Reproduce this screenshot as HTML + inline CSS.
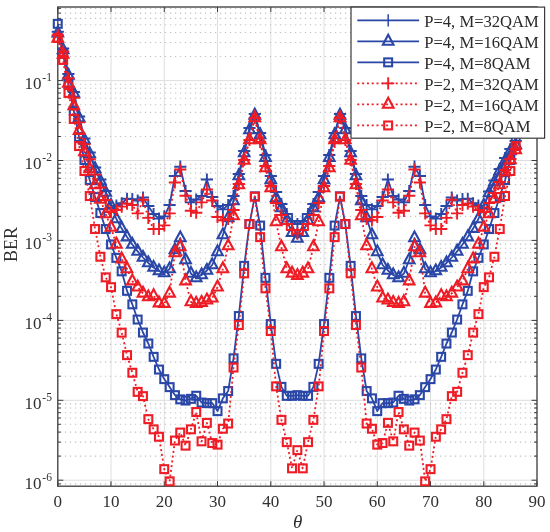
<!DOCTYPE html>
<html><head><meta charset="utf-8"><title>BER vs theta</title>
<style>html,body{margin:0;padding:0;background:#fff}body{width:550px;height:532px;overflow:hidden}</style></head>
<body>
<svg width="550" height="532" viewBox="0 0 550 532" style="display:block">
<rect width="550" height="532" fill="#fff"/>
<path d="M111.0 7.0V486.2 M164.3 7.0V486.2 M217.5 7.0V486.2 M270.8 7.0V486.2 M324.0 7.0V486.2 M377.3 7.0V486.2 M430.5 7.0V486.2 M483.8 7.0V486.2 M57.8 480.2H537.0 M57.8 400.3H537.0 M57.8 320.4H537.0 M57.8 240.4H537.0 M57.8 160.5H537.0 M57.8 80.6H537.0" stroke="#dedede" stroke-width="1" fill="none"/>
<path d="M59.9 483.9H537.0 M59.9 456.1H537.0 M59.9 442.1H537.0 M59.9 432.1H537.0 M59.9 424.3H537.0 M59.9 418.0H537.0 M59.9 412.7H537.0 M59.9 408.0H537.0 M59.9 403.9H537.0 M59.9 376.2H537.0 M59.9 362.1H537.0 M59.9 352.2H537.0 M59.9 344.4H537.0 M59.9 338.1H537.0 M59.9 332.7H537.0 M59.9 328.1H537.0 M59.9 324.0H537.0 M59.9 296.3H537.0 M59.9 282.2H537.0 M59.9 272.2H537.0 M59.9 264.5H537.0 M59.9 258.2H537.0 M59.9 252.8H537.0 M59.9 248.2H537.0 M59.9 244.1H537.0 M59.9 216.4H537.0 M59.9 202.3H537.0 M59.9 192.3H537.0 M59.9 184.6H537.0 M59.9 178.3H537.0 M59.9 172.9H537.0 M59.9 168.3H537.0 M59.9 164.2H537.0 M59.9 136.5H537.0 M59.9 122.4H537.0 M59.9 112.4H537.0 M59.9 104.7H537.0 M59.9 98.3H537.0 M59.9 93.0H537.0 M59.9 88.3H537.0 M59.9 84.3H537.0 M59.9 56.5H537.0 M59.9 42.5H537.0 M59.9 32.5H537.0 M59.9 24.7H537.0 M59.9 18.4H537.0 M59.9 13.1H537.0 M59.9 8.4H537.0" stroke="#c2c2c2" stroke-width="1.1" stroke-dasharray="1.3 3.7" fill="none"/>
<path d="M57.8 486.2v-5 M57.8 7.0v5 M111.0 486.2v-5 M111.0 7.0v5 M164.3 486.2v-5 M164.3 7.0v5 M217.5 486.2v-5 M217.5 7.0v5 M270.8 486.2v-5 M270.8 7.0v5 M324.0 486.2v-5 M324.0 7.0v5 M377.3 486.2v-5 M377.3 7.0v5 M430.5 486.2v-5 M430.5 7.0v5 M483.8 486.2v-5 M483.8 7.0v5 M537.0 486.2v-5 M537.0 7.0v5 M57.8 480.2h5.5M537.0 480.2h-5.5 M57.8 400.3h5.5M537.0 400.3h-5.5 M57.8 320.4h5.5M537.0 320.4h-5.5 M57.8 240.4h5.5M537.0 240.4h-5.5 M57.8 160.5h5.5M537.0 160.5h-5.5 M57.8 80.6h5.5M537.0 80.6h-5.5 M57.8 483.9h3M537.0 483.9h-3 M57.8 456.1h3M537.0 456.1h-3 M57.8 442.1h3M537.0 442.1h-3 M57.8 432.1h3M537.0 432.1h-3 M57.8 424.3h3M537.0 424.3h-3 M57.8 418.0h3M537.0 418.0h-3 M57.8 412.7h3M537.0 412.7h-3 M57.8 408.0h3M537.0 408.0h-3 M57.8 403.9h3M537.0 403.9h-3 M57.8 376.2h3M537.0 376.2h-3 M57.8 362.1h3M537.0 362.1h-3 M57.8 352.2h3M537.0 352.2h-3 M57.8 344.4h3M537.0 344.4h-3 M57.8 338.1h3M537.0 338.1h-3 M57.8 332.7h3M537.0 332.7h-3 M57.8 328.1h3M537.0 328.1h-3 M57.8 324.0h3M537.0 324.0h-3 M57.8 296.3h3M537.0 296.3h-3 M57.8 282.2h3M537.0 282.2h-3 M57.8 272.2h3M537.0 272.2h-3 M57.8 264.5h3M537.0 264.5h-3 M57.8 258.2h3M537.0 258.2h-3 M57.8 252.8h3M537.0 252.8h-3 M57.8 248.2h3M537.0 248.2h-3 M57.8 244.1h3M537.0 244.1h-3 M57.8 216.4h3M537.0 216.4h-3 M57.8 202.3h3M537.0 202.3h-3 M57.8 192.3h3M537.0 192.3h-3 M57.8 184.6h3M537.0 184.6h-3 M57.8 178.3h3M537.0 178.3h-3 M57.8 172.9h3M537.0 172.9h-3 M57.8 168.3h3M537.0 168.3h-3 M57.8 164.2h3M537.0 164.2h-3 M57.8 136.5h3M537.0 136.5h-3 M57.8 122.4h3M537.0 122.4h-3 M57.8 112.4h3M537.0 112.4h-3 M57.8 104.7h3M537.0 104.7h-3 M57.8 98.3h3M537.0 98.3h-3 M57.8 93.0h3M537.0 93.0h-3 M57.8 88.3h3M537.0 88.3h-3 M57.8 84.3h3M537.0 84.3h-3 M57.8 56.5h3M537.0 56.5h-3 M57.8 42.5h3M537.0 42.5h-3 M57.8 32.5h3M537.0 32.5h-3 M57.8 24.7h3M537.0 24.7h-3 M57.8 18.4h3M537.0 18.4h-3 M57.8 13.1h3M537.0 13.1h-3 M57.8 8.4h3M537.0 8.4h-3" stroke="#3a3a3a" stroke-width="1" fill="none"/>
<rect x="57.8" y="7.0" width="479.2" height="479.2" fill="none" stroke="#3a3a3a" stroke-width="1.3"/>
<clipPath id="c"><rect x="49.8" y="-1.0" width="495.2" height="487.8"/></clipPath>
<g clip-path="url(#c)">
<path d="M57.8 31.7L63.1 48.5L68.4 74.0L73.8 92.0L79.1 116.5L84.4 138.5L89.7 152.5L95.1 167.5L100.4 179.5L105.7 191.0L111.0 207.8L116.4 205.6L121.7 203.3L127.0 198.8L132.3 199.1L137.7 200.6L143.0 197.5L148.3 206.0L153.6 214.0L159.0 218.6L164.3 216.4L169.6 205.0L174.9 176.0L180.3 166.7L185.6 191.0L190.9 202.4L196.2 199.5L201.6 196.0L206.9 179.5L212.2 197.0L217.5 206.0L222.9 209.4L228.2 205.0L233.5 196.0L238.8 174.0L244.2 151.0L249.5 128.0L254.8 114.0L260.1 133.0L265.5 155.0L270.8 176.0L276.1 192.0L281.4 204.0L286.8 214.0L292.1 221.0L297.4 224.0L302.7 221.0L308.0 214.0L313.4 204.0L318.7 192.0L324.0 176.0L329.3 155.0L334.7 133.0L340.0 114.0L345.3 128.0L350.6 151.0L356.0 174.0L361.3 196.0L366.6 205.0L371.9 209.4L377.3 206.0L382.6 197.0L387.9 179.5L393.2 196.0L398.6 199.5L403.9 202.4L409.2 191.0L414.5 166.7L419.9 176.0L425.2 205.0L430.5 216.4L435.8 218.6L441.2 214.0L446.5 206.0L451.8 197.5L457.1 200.6L462.5 199.1L467.8 198.8L473.1 203.3L478.4 205.6L483.8 207.8L489.1 191.5L494.4 180.5L499.7 169.0L505.1 158.0L510.4 149.0L515.7 141.0" stroke="#2a47a8" stroke-width="1.8" fill="none" stroke-linejoin="round"/>
<g><path d="M51.7 31.7H63.9M57.8 25.6V37.8" stroke="#2a47a8" stroke-width="1.9" fill="none"/><path d="M57.0 48.5H69.2M63.1 42.4V54.6" stroke="#2a47a8" stroke-width="1.9" fill="none"/><path d="M62.3 74.0H74.5M68.4 67.9V80.1" stroke="#2a47a8" stroke-width="1.9" fill="none"/><path d="M67.7 92.0H79.9M73.8 85.9V98.1" stroke="#2a47a8" stroke-width="1.9" fill="none"/><path d="M73.0 116.5H85.2M79.1 110.4V122.6" stroke="#2a47a8" stroke-width="1.9" fill="none"/><path d="M78.3 138.5H90.5M84.4 132.4V144.6" stroke="#2a47a8" stroke-width="1.9" fill="none"/><path d="M83.6 152.5H95.8M89.7 146.4V158.6" stroke="#2a47a8" stroke-width="1.9" fill="none"/><path d="M89.0 167.5H101.2M95.1 161.4V173.6" stroke="#2a47a8" stroke-width="1.9" fill="none"/><path d="M94.3 179.5H106.5M100.4 173.4V185.6" stroke="#2a47a8" stroke-width="1.9" fill="none"/><path d="M99.6 191.0H111.8M105.7 184.9V197.1" stroke="#2a47a8" stroke-width="1.9" fill="none"/><path d="M104.9 207.8H117.1M111.0 201.7V213.9" stroke="#2a47a8" stroke-width="1.9" fill="none"/><path d="M110.3 205.6H122.5M116.4 199.5V211.7" stroke="#2a47a8" stroke-width="1.9" fill="none"/><path d="M115.6 203.3H127.8M121.7 197.2V209.4" stroke="#2a47a8" stroke-width="1.9" fill="none"/><path d="M120.9 198.8H133.1M127.0 192.7V204.9" stroke="#2a47a8" stroke-width="1.9" fill="none"/><path d="M126.2 199.1H138.4M132.3 193.0V205.2" stroke="#2a47a8" stroke-width="1.9" fill="none"/><path d="M131.6 200.6H143.8M137.7 194.5V206.7" stroke="#2a47a8" stroke-width="1.9" fill="none"/><path d="M136.9 197.5H149.1M143.0 191.4V203.6" stroke="#2a47a8" stroke-width="1.9" fill="none"/><path d="M142.2 206.0H154.4M148.3 199.9V212.1" stroke="#2a47a8" stroke-width="1.9" fill="none"/><path d="M147.5 214.0H159.7M153.6 207.9V220.1" stroke="#2a47a8" stroke-width="1.9" fill="none"/><path d="M152.9 218.6H165.1M159.0 212.5V224.7" stroke="#2a47a8" stroke-width="1.9" fill="none"/><path d="M158.2 216.4H170.4M164.3 210.3V222.5" stroke="#2a47a8" stroke-width="1.9" fill="none"/><path d="M163.5 205.0H175.7M169.6 198.9V211.1" stroke="#2a47a8" stroke-width="1.9" fill="none"/><path d="M168.8 176.0H181.0M174.9 169.9V182.1" stroke="#2a47a8" stroke-width="1.9" fill="none"/><path d="M174.2 166.7H186.4M180.3 160.6V172.8" stroke="#2a47a8" stroke-width="1.9" fill="none"/><path d="M179.5 191.0H191.7M185.6 184.9V197.1" stroke="#2a47a8" stroke-width="1.9" fill="none"/><path d="M184.8 202.4H197.0M190.9 196.3V208.5" stroke="#2a47a8" stroke-width="1.9" fill="none"/><path d="M190.1 199.5H202.3M196.2 193.4V205.6" stroke="#2a47a8" stroke-width="1.9" fill="none"/><path d="M195.5 196.0H207.7M201.6 189.9V202.1" stroke="#2a47a8" stroke-width="1.9" fill="none"/><path d="M200.8 179.5H213.0M206.9 173.4V185.6" stroke="#2a47a8" stroke-width="1.9" fill="none"/><path d="M206.1 197.0H218.3M212.2 190.9V203.1" stroke="#2a47a8" stroke-width="1.9" fill="none"/><path d="M211.4 206.0H223.6M217.5 199.9V212.1" stroke="#2a47a8" stroke-width="1.9" fill="none"/><path d="M216.8 209.4H229.0M222.9 203.3V215.5" stroke="#2a47a8" stroke-width="1.9" fill="none"/><path d="M222.1 205.0H234.3M228.2 198.9V211.1" stroke="#2a47a8" stroke-width="1.9" fill="none"/><path d="M227.4 196.0H239.6M233.5 189.9V202.1" stroke="#2a47a8" stroke-width="1.9" fill="none"/><path d="M232.7 174.0H244.9M238.8 167.9V180.1" stroke="#2a47a8" stroke-width="1.9" fill="none"/><path d="M238.1 151.0H250.3M244.2 144.9V157.1" stroke="#2a47a8" stroke-width="1.9" fill="none"/><path d="M243.4 128.0H255.6M249.5 121.9V134.1" stroke="#2a47a8" stroke-width="1.9" fill="none"/><path d="M248.7 114.0H260.9M254.8 107.9V120.1" stroke="#2a47a8" stroke-width="1.9" fill="none"/><path d="M254.0 133.0H266.2M260.1 126.9V139.1" stroke="#2a47a8" stroke-width="1.9" fill="none"/><path d="M259.4 155.0H271.6M265.5 148.9V161.1" stroke="#2a47a8" stroke-width="1.9" fill="none"/><path d="M264.7 176.0H276.9M270.8 169.9V182.1" stroke="#2a47a8" stroke-width="1.9" fill="none"/><path d="M270.0 192.0H282.2M276.1 185.9V198.1" stroke="#2a47a8" stroke-width="1.9" fill="none"/><path d="M275.3 204.0H287.5M281.4 197.9V210.1" stroke="#2a47a8" stroke-width="1.9" fill="none"/><path d="M280.7 214.0H292.9M286.8 207.9V220.1" stroke="#2a47a8" stroke-width="1.9" fill="none"/><path d="M286.0 221.0H298.2M292.1 214.9V227.1" stroke="#2a47a8" stroke-width="1.9" fill="none"/><path d="M291.3 224.0H303.5M297.4 217.9V230.1" stroke="#2a47a8" stroke-width="1.9" fill="none"/><path d="M296.6 221.0H308.8M302.7 214.9V227.1" stroke="#2a47a8" stroke-width="1.9" fill="none"/><path d="M301.9 214.0H314.1M308.0 207.9V220.1" stroke="#2a47a8" stroke-width="1.9" fill="none"/><path d="M307.3 204.0H319.5M313.4 197.9V210.1" stroke="#2a47a8" stroke-width="1.9" fill="none"/><path d="M312.6 192.0H324.8M318.7 185.9V198.1" stroke="#2a47a8" stroke-width="1.9" fill="none"/><path d="M317.9 176.0H330.1M324.0 169.9V182.1" stroke="#2a47a8" stroke-width="1.9" fill="none"/><path d="M323.2 155.0H335.4M329.3 148.9V161.1" stroke="#2a47a8" stroke-width="1.9" fill="none"/><path d="M328.6 133.0H340.8M334.7 126.9V139.1" stroke="#2a47a8" stroke-width="1.9" fill="none"/><path d="M333.9 114.0H346.1M340.0 107.9V120.1" stroke="#2a47a8" stroke-width="1.9" fill="none"/><path d="M339.2 128.0H351.4M345.3 121.9V134.1" stroke="#2a47a8" stroke-width="1.9" fill="none"/><path d="M344.5 151.0H356.7M350.6 144.9V157.1" stroke="#2a47a8" stroke-width="1.9" fill="none"/><path d="M349.9 174.0H362.1M356.0 167.9V180.1" stroke="#2a47a8" stroke-width="1.9" fill="none"/><path d="M355.2 196.0H367.4M361.3 189.9V202.1" stroke="#2a47a8" stroke-width="1.9" fill="none"/><path d="M360.5 205.0H372.7M366.6 198.9V211.1" stroke="#2a47a8" stroke-width="1.9" fill="none"/><path d="M365.8 209.4H378.0M371.9 203.3V215.5" stroke="#2a47a8" stroke-width="1.9" fill="none"/><path d="M371.2 206.0H383.4M377.3 199.9V212.1" stroke="#2a47a8" stroke-width="1.9" fill="none"/><path d="M376.5 197.0H388.7M382.6 190.9V203.1" stroke="#2a47a8" stroke-width="1.9" fill="none"/><path d="M381.8 179.5H394.0M387.9 173.4V185.6" stroke="#2a47a8" stroke-width="1.9" fill="none"/><path d="M387.1 196.0H399.3M393.2 189.9V202.1" stroke="#2a47a8" stroke-width="1.9" fill="none"/><path d="M392.5 199.5H404.7M398.6 193.4V205.6" stroke="#2a47a8" stroke-width="1.9" fill="none"/><path d="M397.8 202.4H410.0M403.9 196.3V208.5" stroke="#2a47a8" stroke-width="1.9" fill="none"/><path d="M403.1 191.0H415.3M409.2 184.9V197.1" stroke="#2a47a8" stroke-width="1.9" fill="none"/><path d="M408.4 166.7H420.6M414.5 160.6V172.8" stroke="#2a47a8" stroke-width="1.9" fill="none"/><path d="M413.8 176.0H426.0M419.9 169.9V182.1" stroke="#2a47a8" stroke-width="1.9" fill="none"/><path d="M419.1 205.0H431.3M425.2 198.9V211.1" stroke="#2a47a8" stroke-width="1.9" fill="none"/><path d="M424.4 216.4H436.6M430.5 210.3V222.5" stroke="#2a47a8" stroke-width="1.9" fill="none"/><path d="M429.7 218.6H441.9M435.8 212.5V224.7" stroke="#2a47a8" stroke-width="1.9" fill="none"/><path d="M435.1 214.0H447.3M441.2 207.9V220.1" stroke="#2a47a8" stroke-width="1.9" fill="none"/><path d="M440.4 206.0H452.6M446.5 199.9V212.1" stroke="#2a47a8" stroke-width="1.9" fill="none"/><path d="M445.7 197.5H457.9M451.8 191.4V203.6" stroke="#2a47a8" stroke-width="1.9" fill="none"/><path d="M451.0 200.6H463.2M457.1 194.5V206.7" stroke="#2a47a8" stroke-width="1.9" fill="none"/><path d="M456.4 199.1H468.6M462.5 193.0V205.2" stroke="#2a47a8" stroke-width="1.9" fill="none"/><path d="M461.7 198.8H473.9M467.8 192.7V204.9" stroke="#2a47a8" stroke-width="1.9" fill="none"/><path d="M467.0 203.3H479.2M473.1 197.2V209.4" stroke="#2a47a8" stroke-width="1.9" fill="none"/><path d="M472.3 205.6H484.5M478.4 199.5V211.7" stroke="#2a47a8" stroke-width="1.9" fill="none"/><path d="M477.7 207.8H489.9M483.8 201.7V213.9" stroke="#2a47a8" stroke-width="1.9" fill="none"/><path d="M483.0 191.5H495.2M489.1 185.4V197.6" stroke="#2a47a8" stroke-width="1.9" fill="none"/><path d="M488.3 180.5H500.5M494.4 174.4V186.6" stroke="#2a47a8" stroke-width="1.9" fill="none"/><path d="M493.6 169.0H505.8M499.7 162.9V175.1" stroke="#2a47a8" stroke-width="1.9" fill="none"/><path d="M499.0 158.0H511.2M505.1 151.9V164.1" stroke="#2a47a8" stroke-width="1.9" fill="none"/><path d="M504.3 149.0H516.5M510.4 142.9V155.1" stroke="#2a47a8" stroke-width="1.9" fill="none"/><path d="M509.6 141.0H521.8M515.7 134.9V147.1" stroke="#2a47a8" stroke-width="1.9" fill="none"/></g>
<path d="M57.8 33.2L63.1 50.0L68.4 75.5L73.8 93.5L79.1 118.0L84.4 140.0L89.7 154.0L95.1 169.0L100.4 181.0L105.7 192.5L111.0 205.5L116.4 219.0L121.7 228.6L127.0 237.1L132.3 244.5L137.7 251.4L143.0 257.5L148.3 263.0L153.6 267.5L159.0 271.0L164.3 273.0L169.6 269.0L174.9 250.0L180.3 238.0L185.6 260.0L190.9 273.5L196.2 278.0L201.6 275.0L206.9 270.5L212.2 265.0L217.5 252.0L222.9 235.0L228.2 218.0L233.5 201.0L238.8 176.0L244.2 153.0L249.5 130.0L254.8 115.4L260.1 135.0L265.5 157.7L270.8 180.0L276.1 198.0L281.4 208.0L286.8 220.5L292.1 232.7L297.4 238.5L302.7 232.7L308.0 220.5L313.4 208.0L318.7 198.0L324.0 180.0L329.3 157.7L334.7 135.0L340.0 115.4L345.3 130.0L350.6 153.0L356.0 176.0L361.3 201.0L366.6 218.0L371.9 235.0L377.3 252.0L382.6 265.0L387.9 270.5L393.2 275.0L398.6 278.0L403.9 273.5L409.2 260.0L414.5 238.0L419.9 250.0L425.2 269.0L430.5 273.0L435.8 271.0L441.2 267.5L446.5 263.0L451.8 257.5L457.1 251.4L462.5 244.5L467.8 237.1L473.1 228.6L478.4 219.0L483.8 205.5L489.1 193.0L494.4 182.0L499.7 171.0L505.1 161.0L510.4 151.0L515.7 145.0" stroke="#2a47a8" stroke-width="1.8" fill="none" stroke-linejoin="round"/>
<g><path d="M57.8 26.6L63.1 36.5H52.5Z" stroke="#2a47a8" stroke-width="2.1" fill="none" stroke-linejoin="miter"/><path d="M63.1 43.4L68.4 53.3H57.8Z" stroke="#2a47a8" stroke-width="2.1" fill="none" stroke-linejoin="miter"/><path d="M68.4 68.9L73.7 78.8H63.1Z" stroke="#2a47a8" stroke-width="2.1" fill="none" stroke-linejoin="miter"/><path d="M73.8 86.9L79.1 96.8H68.5Z" stroke="#2a47a8" stroke-width="2.1" fill="none" stroke-linejoin="miter"/><path d="M79.1 111.4L84.4 121.3H73.8Z" stroke="#2a47a8" stroke-width="2.1" fill="none" stroke-linejoin="miter"/><path d="M84.4 133.4L89.7 143.3H79.1Z" stroke="#2a47a8" stroke-width="2.1" fill="none" stroke-linejoin="miter"/><path d="M89.7 147.4L95.0 157.3H84.4Z" stroke="#2a47a8" stroke-width="2.1" fill="none" stroke-linejoin="miter"/><path d="M95.1 162.4L100.4 172.3H89.8Z" stroke="#2a47a8" stroke-width="2.1" fill="none" stroke-linejoin="miter"/><path d="M100.4 174.4L105.7 184.3H95.1Z" stroke="#2a47a8" stroke-width="2.1" fill="none" stroke-linejoin="miter"/><path d="M105.7 185.9L111.0 195.8H100.4Z" stroke="#2a47a8" stroke-width="2.1" fill="none" stroke-linejoin="miter"/><path d="M111.0 198.9L116.3 208.8H105.7Z" stroke="#2a47a8" stroke-width="2.1" fill="none" stroke-linejoin="miter"/><path d="M116.4 212.4L121.7 222.3H111.1Z" stroke="#2a47a8" stroke-width="2.1" fill="none" stroke-linejoin="miter"/><path d="M121.7 222.0L127.0 231.9H116.4Z" stroke="#2a47a8" stroke-width="2.1" fill="none" stroke-linejoin="miter"/><path d="M127.0 230.5L132.3 240.4H121.7Z" stroke="#2a47a8" stroke-width="2.1" fill="none" stroke-linejoin="miter"/><path d="M132.3 237.9L137.6 247.8H127.0Z" stroke="#2a47a8" stroke-width="2.1" fill="none" stroke-linejoin="miter"/><path d="M137.7 244.8L143.0 254.7H132.4Z" stroke="#2a47a8" stroke-width="2.1" fill="none" stroke-linejoin="miter"/><path d="M143.0 250.9L148.3 260.8H137.7Z" stroke="#2a47a8" stroke-width="2.1" fill="none" stroke-linejoin="miter"/><path d="M148.3 256.4L153.6 266.3H143.0Z" stroke="#2a47a8" stroke-width="2.1" fill="none" stroke-linejoin="miter"/><path d="M153.6 260.9L158.9 270.8H148.3Z" stroke="#2a47a8" stroke-width="2.1" fill="none" stroke-linejoin="miter"/><path d="M159.0 264.4L164.3 274.3H153.7Z" stroke="#2a47a8" stroke-width="2.1" fill="none" stroke-linejoin="miter"/><path d="M164.3 266.4L169.6 276.3H159.0Z" stroke="#2a47a8" stroke-width="2.1" fill="none" stroke-linejoin="miter"/><path d="M169.6 262.4L174.9 272.3H164.3Z" stroke="#2a47a8" stroke-width="2.1" fill="none" stroke-linejoin="miter"/><path d="M174.9 243.4L180.2 253.3H169.6Z" stroke="#2a47a8" stroke-width="2.1" fill="none" stroke-linejoin="miter"/><path d="M180.3 231.4L185.6 241.3H175.0Z" stroke="#2a47a8" stroke-width="2.1" fill="none" stroke-linejoin="miter"/><path d="M185.6 253.4L190.9 263.3H180.3Z" stroke="#2a47a8" stroke-width="2.1" fill="none" stroke-linejoin="miter"/><path d="M190.9 266.9L196.2 276.8H185.6Z" stroke="#2a47a8" stroke-width="2.1" fill="none" stroke-linejoin="miter"/><path d="M196.2 271.4L201.5 281.3H190.9Z" stroke="#2a47a8" stroke-width="2.1" fill="none" stroke-linejoin="miter"/><path d="M201.6 268.4L206.9 278.3H196.3Z" stroke="#2a47a8" stroke-width="2.1" fill="none" stroke-linejoin="miter"/><path d="M206.9 263.9L212.2 273.8H201.6Z" stroke="#2a47a8" stroke-width="2.1" fill="none" stroke-linejoin="miter"/><path d="M212.2 258.4L217.5 268.3H206.9Z" stroke="#2a47a8" stroke-width="2.1" fill="none" stroke-linejoin="miter"/><path d="M217.5 245.4L222.8 255.3H212.2Z" stroke="#2a47a8" stroke-width="2.1" fill="none" stroke-linejoin="miter"/><path d="M222.9 228.4L228.2 238.3H217.6Z" stroke="#2a47a8" stroke-width="2.1" fill="none" stroke-linejoin="miter"/><path d="M228.2 211.4L233.5 221.3H222.9Z" stroke="#2a47a8" stroke-width="2.1" fill="none" stroke-linejoin="miter"/><path d="M233.5 194.4L238.8 204.3H228.2Z" stroke="#2a47a8" stroke-width="2.1" fill="none" stroke-linejoin="miter"/><path d="M238.8 169.4L244.1 179.3H233.5Z" stroke="#2a47a8" stroke-width="2.1" fill="none" stroke-linejoin="miter"/><path d="M244.2 146.4L249.5 156.3H238.9Z" stroke="#2a47a8" stroke-width="2.1" fill="none" stroke-linejoin="miter"/><path d="M249.5 123.4L254.8 133.3H244.2Z" stroke="#2a47a8" stroke-width="2.1" fill="none" stroke-linejoin="miter"/><path d="M254.8 108.8L260.1 118.7H249.5Z" stroke="#2a47a8" stroke-width="2.1" fill="none" stroke-linejoin="miter"/><path d="M260.1 128.4L265.4 138.3H254.8Z" stroke="#2a47a8" stroke-width="2.1" fill="none" stroke-linejoin="miter"/><path d="M265.5 151.1L270.8 161.0H260.2Z" stroke="#2a47a8" stroke-width="2.1" fill="none" stroke-linejoin="miter"/><path d="M270.8 173.4L276.1 183.3H265.5Z" stroke="#2a47a8" stroke-width="2.1" fill="none" stroke-linejoin="miter"/><path d="M276.1 191.4L281.4 201.3H270.8Z" stroke="#2a47a8" stroke-width="2.1" fill="none" stroke-linejoin="miter"/><path d="M281.4 201.4L286.7 211.3H276.1Z" stroke="#2a47a8" stroke-width="2.1" fill="none" stroke-linejoin="miter"/><path d="M286.8 213.9L292.1 223.8H281.5Z" stroke="#2a47a8" stroke-width="2.1" fill="none" stroke-linejoin="miter"/><path d="M292.1 226.1L297.4 236.0H286.8Z" stroke="#2a47a8" stroke-width="2.1" fill="none" stroke-linejoin="miter"/><path d="M297.4 231.9L302.7 241.8H292.1Z" stroke="#2a47a8" stroke-width="2.1" fill="none" stroke-linejoin="miter"/><path d="M302.7 226.1L308.0 236.0H297.4Z" stroke="#2a47a8" stroke-width="2.1" fill="none" stroke-linejoin="miter"/><path d="M308.0 213.9L313.3 223.8H302.7Z" stroke="#2a47a8" stroke-width="2.1" fill="none" stroke-linejoin="miter"/><path d="M313.4 201.4L318.7 211.3H308.1Z" stroke="#2a47a8" stroke-width="2.1" fill="none" stroke-linejoin="miter"/><path d="M318.7 191.4L324.0 201.3H313.4Z" stroke="#2a47a8" stroke-width="2.1" fill="none" stroke-linejoin="miter"/><path d="M324.0 173.4L329.3 183.3H318.7Z" stroke="#2a47a8" stroke-width="2.1" fill="none" stroke-linejoin="miter"/><path d="M329.3 151.1L334.6 161.0H324.0Z" stroke="#2a47a8" stroke-width="2.1" fill="none" stroke-linejoin="miter"/><path d="M334.7 128.4L340.0 138.3H329.4Z" stroke="#2a47a8" stroke-width="2.1" fill="none" stroke-linejoin="miter"/><path d="M340.0 108.8L345.3 118.7H334.7Z" stroke="#2a47a8" stroke-width="2.1" fill="none" stroke-linejoin="miter"/><path d="M345.3 123.4L350.6 133.3H340.0Z" stroke="#2a47a8" stroke-width="2.1" fill="none" stroke-linejoin="miter"/><path d="M350.6 146.4L355.9 156.3H345.3Z" stroke="#2a47a8" stroke-width="2.1" fill="none" stroke-linejoin="miter"/><path d="M356.0 169.4L361.3 179.3H350.7Z" stroke="#2a47a8" stroke-width="2.1" fill="none" stroke-linejoin="miter"/><path d="M361.3 194.4L366.6 204.3H356.0Z" stroke="#2a47a8" stroke-width="2.1" fill="none" stroke-linejoin="miter"/><path d="M366.6 211.4L371.9 221.3H361.3Z" stroke="#2a47a8" stroke-width="2.1" fill="none" stroke-linejoin="miter"/><path d="M371.9 228.4L377.2 238.3H366.6Z" stroke="#2a47a8" stroke-width="2.1" fill="none" stroke-linejoin="miter"/><path d="M377.3 245.4L382.6 255.3H372.0Z" stroke="#2a47a8" stroke-width="2.1" fill="none" stroke-linejoin="miter"/><path d="M382.6 258.4L387.9 268.3H377.3Z" stroke="#2a47a8" stroke-width="2.1" fill="none" stroke-linejoin="miter"/><path d="M387.9 263.9L393.2 273.8H382.6Z" stroke="#2a47a8" stroke-width="2.1" fill="none" stroke-linejoin="miter"/><path d="M393.2 268.4L398.5 278.3H387.9Z" stroke="#2a47a8" stroke-width="2.1" fill="none" stroke-linejoin="miter"/><path d="M398.6 271.4L403.9 281.3H393.3Z" stroke="#2a47a8" stroke-width="2.1" fill="none" stroke-linejoin="miter"/><path d="M403.9 266.9L409.2 276.8H398.6Z" stroke="#2a47a8" stroke-width="2.1" fill="none" stroke-linejoin="miter"/><path d="M409.2 253.4L414.5 263.3H403.9Z" stroke="#2a47a8" stroke-width="2.1" fill="none" stroke-linejoin="miter"/><path d="M414.5 231.4L419.8 241.3H409.2Z" stroke="#2a47a8" stroke-width="2.1" fill="none" stroke-linejoin="miter"/><path d="M419.9 243.4L425.2 253.3H414.6Z" stroke="#2a47a8" stroke-width="2.1" fill="none" stroke-linejoin="miter"/><path d="M425.2 262.4L430.5 272.3H419.9Z" stroke="#2a47a8" stroke-width="2.1" fill="none" stroke-linejoin="miter"/><path d="M430.5 266.4L435.8 276.3H425.2Z" stroke="#2a47a8" stroke-width="2.1" fill="none" stroke-linejoin="miter"/><path d="M435.8 264.4L441.1 274.3H430.5Z" stroke="#2a47a8" stroke-width="2.1" fill="none" stroke-linejoin="miter"/><path d="M441.2 260.9L446.5 270.8H435.9Z" stroke="#2a47a8" stroke-width="2.1" fill="none" stroke-linejoin="miter"/><path d="M446.5 256.4L451.8 266.3H441.2Z" stroke="#2a47a8" stroke-width="2.1" fill="none" stroke-linejoin="miter"/><path d="M451.8 250.9L457.1 260.8H446.5Z" stroke="#2a47a8" stroke-width="2.1" fill="none" stroke-linejoin="miter"/><path d="M457.1 244.8L462.4 254.7H451.8Z" stroke="#2a47a8" stroke-width="2.1" fill="none" stroke-linejoin="miter"/><path d="M462.5 237.9L467.8 247.8H457.2Z" stroke="#2a47a8" stroke-width="2.1" fill="none" stroke-linejoin="miter"/><path d="M467.8 230.5L473.1 240.4H462.5Z" stroke="#2a47a8" stroke-width="2.1" fill="none" stroke-linejoin="miter"/><path d="M473.1 222.0L478.4 231.9H467.8Z" stroke="#2a47a8" stroke-width="2.1" fill="none" stroke-linejoin="miter"/><path d="M478.4 212.4L483.7 222.3H473.1Z" stroke="#2a47a8" stroke-width="2.1" fill="none" stroke-linejoin="miter"/><path d="M483.8 198.9L489.1 208.8H478.5Z" stroke="#2a47a8" stroke-width="2.1" fill="none" stroke-linejoin="miter"/><path d="M489.1 186.4L494.4 196.3H483.8Z" stroke="#2a47a8" stroke-width="2.1" fill="none" stroke-linejoin="miter"/><path d="M494.4 175.4L499.7 185.3H489.1Z" stroke="#2a47a8" stroke-width="2.1" fill="none" stroke-linejoin="miter"/><path d="M499.7 164.4L505.0 174.3H494.4Z" stroke="#2a47a8" stroke-width="2.1" fill="none" stroke-linejoin="miter"/><path d="M505.1 154.4L510.4 164.3H499.8Z" stroke="#2a47a8" stroke-width="2.1" fill="none" stroke-linejoin="miter"/><path d="M510.4 144.4L515.7 154.3H505.1Z" stroke="#2a47a8" stroke-width="2.1" fill="none" stroke-linejoin="miter"/><path d="M515.7 138.4L521.0 148.3H510.4Z" stroke="#2a47a8" stroke-width="2.1" fill="none" stroke-linejoin="miter"/></g>
<path d="M57.8 23.8L63.1 54.0L68.4 84.0L73.8 111.0L79.1 137.0L84.4 160.0L89.7 180.0L95.1 197.0L100.4 213.0L105.7 229.0L111.0 244.4L116.4 257.9L121.7 271.3L127.0 290.9L132.3 304.3L137.7 319.5L143.0 332.5L148.3 343.5L153.6 356.8L159.0 369.5L164.3 379.1L169.6 387.1L174.9 395.1L180.3 399.3L185.6 400.5L190.9 398.9L196.2 395.7L201.6 402.5L206.9 403.1L212.2 403.1L217.5 411.1L222.9 398.3L228.2 391.0L233.5 358.3L238.8 316.0L244.2 265.8L249.5 224.0L254.8 196.3L260.1 225.5L265.5 277.8L270.8 324.0L276.1 363.9L281.4 386.9L286.8 395.9L292.1 395.9L297.4 395.2L302.7 395.9L308.0 395.9L313.4 386.9L318.7 363.9L324.0 324.0L329.3 277.8L334.7 225.5L340.0 196.3L345.3 224.0L350.6 265.8L356.0 316.0L361.3 358.3L366.6 391.0L371.9 398.3L377.3 411.1L382.6 403.1L387.9 403.1L393.2 402.5L398.6 395.7L403.9 398.9L409.2 400.5L414.5 399.3L419.9 395.1L425.2 387.1L430.5 379.1L435.8 369.5L441.2 356.8L446.5 343.5L451.8 332.5L457.1 319.5L462.5 304.3L467.8 290.9L473.1 271.3L478.4 257.9L483.8 244.4L489.1 229.0L494.4 213.0L499.7 197.0L505.1 180.0L510.4 160.0L515.7 137.0" stroke="#2a47a8" stroke-width="1.8" fill="none" stroke-linejoin="round"/>
<g><rect x="53.8" y="19.9" width="7.9" height="7.9" stroke="#2a47a8" stroke-width="2.1" fill="none"/><rect x="59.2" y="50.0" width="7.9" height="7.9" stroke="#2a47a8" stroke-width="2.1" fill="none"/><rect x="64.5" y="80.0" width="7.9" height="7.9" stroke="#2a47a8" stroke-width="2.1" fill="none"/><rect x="69.8" y="107.0" width="7.9" height="7.9" stroke="#2a47a8" stroke-width="2.1" fill="none"/><rect x="75.1" y="133.1" width="7.9" height="7.9" stroke="#2a47a8" stroke-width="2.1" fill="none"/><rect x="80.5" y="156.1" width="7.9" height="7.9" stroke="#2a47a8" stroke-width="2.1" fill="none"/><rect x="85.8" y="176.1" width="7.9" height="7.9" stroke="#2a47a8" stroke-width="2.1" fill="none"/><rect x="91.1" y="193.1" width="7.9" height="7.9" stroke="#2a47a8" stroke-width="2.1" fill="none"/><rect x="96.4" y="209.1" width="7.9" height="7.9" stroke="#2a47a8" stroke-width="2.1" fill="none"/><rect x="101.8" y="225.1" width="7.9" height="7.9" stroke="#2a47a8" stroke-width="2.1" fill="none"/><rect x="107.1" y="240.5" width="7.9" height="7.9" stroke="#2a47a8" stroke-width="2.1" fill="none"/><rect x="112.4" y="253.9" width="7.9" height="7.9" stroke="#2a47a8" stroke-width="2.1" fill="none"/><rect x="117.7" y="267.4" width="7.9" height="7.9" stroke="#2a47a8" stroke-width="2.1" fill="none"/><rect x="123.1" y="286.9" width="7.9" height="7.9" stroke="#2a47a8" stroke-width="2.1" fill="none"/><rect x="128.4" y="300.4" width="7.9" height="7.9" stroke="#2a47a8" stroke-width="2.1" fill="none"/><rect x="133.7" y="315.6" width="7.9" height="7.9" stroke="#2a47a8" stroke-width="2.1" fill="none"/><rect x="139.0" y="328.6" width="7.9" height="7.9" stroke="#2a47a8" stroke-width="2.1" fill="none"/><rect x="144.4" y="339.6" width="7.9" height="7.9" stroke="#2a47a8" stroke-width="2.1" fill="none"/><rect x="149.7" y="352.9" width="7.9" height="7.9" stroke="#2a47a8" stroke-width="2.1" fill="none"/><rect x="155.0" y="365.6" width="7.9" height="7.9" stroke="#2a47a8" stroke-width="2.1" fill="none"/><rect x="160.3" y="375.2" width="7.9" height="7.9" stroke="#2a47a8" stroke-width="2.1" fill="none"/><rect x="165.7" y="383.2" width="7.9" height="7.9" stroke="#2a47a8" stroke-width="2.1" fill="none"/><rect x="171.0" y="391.2" width="7.9" height="7.9" stroke="#2a47a8" stroke-width="2.1" fill="none"/><rect x="176.3" y="395.4" width="7.9" height="7.9" stroke="#2a47a8" stroke-width="2.1" fill="none"/><rect x="181.6" y="396.6" width="7.9" height="7.9" stroke="#2a47a8" stroke-width="2.1" fill="none"/><rect x="187.0" y="394.9" width="7.9" height="7.9" stroke="#2a47a8" stroke-width="2.1" fill="none"/><rect x="192.3" y="391.8" width="7.9" height="7.9" stroke="#2a47a8" stroke-width="2.1" fill="none"/><rect x="197.6" y="398.6" width="7.9" height="7.9" stroke="#2a47a8" stroke-width="2.1" fill="none"/><rect x="202.9" y="399.2" width="7.9" height="7.9" stroke="#2a47a8" stroke-width="2.1" fill="none"/><rect x="208.3" y="399.2" width="7.9" height="7.9" stroke="#2a47a8" stroke-width="2.1" fill="none"/><rect x="213.6" y="407.2" width="7.9" height="7.9" stroke="#2a47a8" stroke-width="2.1" fill="none"/><rect x="218.9" y="394.4" width="7.9" height="7.9" stroke="#2a47a8" stroke-width="2.1" fill="none"/><rect x="224.2" y="387.1" width="7.9" height="7.9" stroke="#2a47a8" stroke-width="2.1" fill="none"/><rect x="229.6" y="354.4" width="7.9" height="7.9" stroke="#2a47a8" stroke-width="2.1" fill="none"/><rect x="234.9" y="312.1" width="7.9" height="7.9" stroke="#2a47a8" stroke-width="2.1" fill="none"/><rect x="240.2" y="261.9" width="7.9" height="7.9" stroke="#2a47a8" stroke-width="2.1" fill="none"/><rect x="245.5" y="220.1" width="7.9" height="7.9" stroke="#2a47a8" stroke-width="2.1" fill="none"/><rect x="250.9" y="192.4" width="7.9" height="7.9" stroke="#2a47a8" stroke-width="2.1" fill="none"/><rect x="256.2" y="221.6" width="7.9" height="7.9" stroke="#2a47a8" stroke-width="2.1" fill="none"/><rect x="261.5" y="273.9" width="7.9" height="7.9" stroke="#2a47a8" stroke-width="2.1" fill="none"/><rect x="266.8" y="320.1" width="7.9" height="7.9" stroke="#2a47a8" stroke-width="2.1" fill="none"/><rect x="272.2" y="359.9" width="7.9" height="7.9" stroke="#2a47a8" stroke-width="2.1" fill="none"/><rect x="277.5" y="382.9" width="7.9" height="7.9" stroke="#2a47a8" stroke-width="2.1" fill="none"/><rect x="282.8" y="391.9" width="7.9" height="7.9" stroke="#2a47a8" stroke-width="2.1" fill="none"/><rect x="288.1" y="391.9" width="7.9" height="7.9" stroke="#2a47a8" stroke-width="2.1" fill="none"/><rect x="293.4" y="391.2" width="7.9" height="7.9" stroke="#2a47a8" stroke-width="2.1" fill="none"/><rect x="298.8" y="391.9" width="7.9" height="7.9" stroke="#2a47a8" stroke-width="2.1" fill="none"/><rect x="304.1" y="391.9" width="7.9" height="7.9" stroke="#2a47a8" stroke-width="2.1" fill="none"/><rect x="309.4" y="382.9" width="7.9" height="7.9" stroke="#2a47a8" stroke-width="2.1" fill="none"/><rect x="314.7" y="359.9" width="7.9" height="7.9" stroke="#2a47a8" stroke-width="2.1" fill="none"/><rect x="320.1" y="320.1" width="7.9" height="7.9" stroke="#2a47a8" stroke-width="2.1" fill="none"/><rect x="325.4" y="273.9" width="7.9" height="7.9" stroke="#2a47a8" stroke-width="2.1" fill="none"/><rect x="330.7" y="221.6" width="7.9" height="7.9" stroke="#2a47a8" stroke-width="2.1" fill="none"/><rect x="336.0" y="192.4" width="7.9" height="7.9" stroke="#2a47a8" stroke-width="2.1" fill="none"/><rect x="341.4" y="220.1" width="7.9" height="7.9" stroke="#2a47a8" stroke-width="2.1" fill="none"/><rect x="346.7" y="261.9" width="7.9" height="7.9" stroke="#2a47a8" stroke-width="2.1" fill="none"/><rect x="352.0" y="312.1" width="7.9" height="7.9" stroke="#2a47a8" stroke-width="2.1" fill="none"/><rect x="357.3" y="354.4" width="7.9" height="7.9" stroke="#2a47a8" stroke-width="2.1" fill="none"/><rect x="362.7" y="387.1" width="7.9" height="7.9" stroke="#2a47a8" stroke-width="2.1" fill="none"/><rect x="368.0" y="394.4" width="7.9" height="7.9" stroke="#2a47a8" stroke-width="2.1" fill="none"/><rect x="373.3" y="407.2" width="7.9" height="7.9" stroke="#2a47a8" stroke-width="2.1" fill="none"/><rect x="378.6" y="399.2" width="7.9" height="7.9" stroke="#2a47a8" stroke-width="2.1" fill="none"/><rect x="384.0" y="399.2" width="7.9" height="7.9" stroke="#2a47a8" stroke-width="2.1" fill="none"/><rect x="389.3" y="398.6" width="7.9" height="7.9" stroke="#2a47a8" stroke-width="2.1" fill="none"/><rect x="394.6" y="391.8" width="7.9" height="7.9" stroke="#2a47a8" stroke-width="2.1" fill="none"/><rect x="399.9" y="394.9" width="7.9" height="7.9" stroke="#2a47a8" stroke-width="2.1" fill="none"/><rect x="405.3" y="396.6" width="7.9" height="7.9" stroke="#2a47a8" stroke-width="2.1" fill="none"/><rect x="410.6" y="395.4" width="7.9" height="7.9" stroke="#2a47a8" stroke-width="2.1" fill="none"/><rect x="415.9" y="391.2" width="7.9" height="7.9" stroke="#2a47a8" stroke-width="2.1" fill="none"/><rect x="421.2" y="383.2" width="7.9" height="7.9" stroke="#2a47a8" stroke-width="2.1" fill="none"/><rect x="426.6" y="375.2" width="7.9" height="7.9" stroke="#2a47a8" stroke-width="2.1" fill="none"/><rect x="431.9" y="365.6" width="7.9" height="7.9" stroke="#2a47a8" stroke-width="2.1" fill="none"/><rect x="437.2" y="352.9" width="7.9" height="7.9" stroke="#2a47a8" stroke-width="2.1" fill="none"/><rect x="442.5" y="339.6" width="7.9" height="7.9" stroke="#2a47a8" stroke-width="2.1" fill="none"/><rect x="447.9" y="328.6" width="7.9" height="7.9" stroke="#2a47a8" stroke-width="2.1" fill="none"/><rect x="453.2" y="315.6" width="7.9" height="7.9" stroke="#2a47a8" stroke-width="2.1" fill="none"/><rect x="458.5" y="300.4" width="7.9" height="7.9" stroke="#2a47a8" stroke-width="2.1" fill="none"/><rect x="463.8" y="286.9" width="7.9" height="7.9" stroke="#2a47a8" stroke-width="2.1" fill="none"/><rect x="469.2" y="267.4" width="7.9" height="7.9" stroke="#2a47a8" stroke-width="2.1" fill="none"/><rect x="474.5" y="253.9" width="7.9" height="7.9" stroke="#2a47a8" stroke-width="2.1" fill="none"/><rect x="479.8" y="240.5" width="7.9" height="7.9" stroke="#2a47a8" stroke-width="2.1" fill="none"/><rect x="485.1" y="225.1" width="7.9" height="7.9" stroke="#2a47a8" stroke-width="2.1" fill="none"/><rect x="490.5" y="209.1" width="7.9" height="7.9" stroke="#2a47a8" stroke-width="2.1" fill="none"/><rect x="495.8" y="193.1" width="7.9" height="7.9" stroke="#2a47a8" stroke-width="2.1" fill="none"/><rect x="501.1" y="176.1" width="7.9" height="7.9" stroke="#2a47a8" stroke-width="2.1" fill="none"/><rect x="506.4" y="156.1" width="7.9" height="7.9" stroke="#2a47a8" stroke-width="2.1" fill="none"/><rect x="511.8" y="133.1" width="7.9" height="7.9" stroke="#2a47a8" stroke-width="2.1" fill="none"/></g>
<path d="M57.8 35.1L63.1 51.5L68.4 78.3L73.8 97.8L79.1 122.4L84.4 144.2L89.7 159.2L95.1 174.6L100.4 187.5L105.7 200.0L111.0 212.0L116.4 210.0L121.7 206.6L127.0 203.6L132.3 205.0L137.7 213.4L143.0 199.8L148.3 217.9L153.6 229.0L159.0 229.0L164.3 225.4L169.6 213.4L174.9 182.5L180.3 169.5L185.6 195.8L190.9 210.8L196.2 212.7L201.6 202.4L206.9 189.5L212.2 200.5L217.5 217.0L222.9 220.2L228.2 219.0L233.5 210.0L238.8 184.0L244.2 160.0L249.5 140.0L254.8 118.0L260.1 142.0L265.5 166.0L270.8 186.0L276.1 203.0L281.4 215.0L286.8 224.0L292.1 230.0L297.4 233.6L302.7 230.0L308.0 224.0L313.4 215.0L318.7 203.0L324.0 186.0L329.3 166.0L334.7 142.0L340.0 118.0L345.3 140.0L350.6 160.0L356.0 184.0L361.3 210.0L366.6 219.0L371.9 220.2L377.3 217.0L382.6 200.5L387.9 189.5L393.2 202.4L398.6 212.7L403.9 210.8L409.2 195.8L414.5 169.5L419.9 182.5L425.2 213.4L430.5 225.4L435.8 229.0L441.2 229.0L446.5 217.9L451.8 199.8L457.1 213.4L462.5 205.0L467.8 203.6L473.1 206.6L478.4 210.0L483.8 212.0L489.1 203.0L494.4 193.0L499.7 182.0L505.1 170.0L510.4 159.0L515.7 149.0" stroke="#ee1c25" stroke-width="1.8" fill="none" stroke-linejoin="round" stroke-dasharray="2 2.8"/>
<g><path d="M51.7 35.1H63.9M57.8 29.0V41.2" stroke="#ee1c25" stroke-width="1.9" fill="none"/><path d="M57.0 51.5H69.2M63.1 45.4V57.6" stroke="#ee1c25" stroke-width="1.9" fill="none"/><path d="M62.3 78.3H74.5M68.4 72.2V84.4" stroke="#ee1c25" stroke-width="1.9" fill="none"/><path d="M67.7 97.8H79.9M73.8 91.7V103.9" stroke="#ee1c25" stroke-width="1.9" fill="none"/><path d="M73.0 122.4H85.2M79.1 116.3V128.5" stroke="#ee1c25" stroke-width="1.9" fill="none"/><path d="M78.3 144.2H90.5M84.4 138.1V150.3" stroke="#ee1c25" stroke-width="1.9" fill="none"/><path d="M83.6 159.2H95.8M89.7 153.2V165.3" stroke="#ee1c25" stroke-width="1.9" fill="none"/><path d="M89.0 174.6H101.2M95.1 168.5V180.7" stroke="#ee1c25" stroke-width="1.9" fill="none"/><path d="M94.3 187.5H106.5M100.4 181.4V193.6" stroke="#ee1c25" stroke-width="1.9" fill="none"/><path d="M99.6 200.0H111.8M105.7 193.9V206.1" stroke="#ee1c25" stroke-width="1.9" fill="none"/><path d="M104.9 212.0H117.1M111.0 205.9V218.1" stroke="#ee1c25" stroke-width="1.9" fill="none"/><path d="M110.3 210.0H122.5M116.4 203.9V216.1" stroke="#ee1c25" stroke-width="1.9" fill="none"/><path d="M115.6 206.6H127.8M121.7 200.5V212.7" stroke="#ee1c25" stroke-width="1.9" fill="none"/><path d="M120.9 203.6H133.1M127.0 197.5V209.7" stroke="#ee1c25" stroke-width="1.9" fill="none"/><path d="M126.2 205.0H138.4M132.3 198.9V211.1" stroke="#ee1c25" stroke-width="1.9" fill="none"/><path d="M131.6 213.4H143.8M137.7 207.3V219.5" stroke="#ee1c25" stroke-width="1.9" fill="none"/><path d="M136.9 199.8H149.1M143.0 193.7V205.9" stroke="#ee1c25" stroke-width="1.9" fill="none"/><path d="M142.2 217.9H154.4M148.3 211.8V224.0" stroke="#ee1c25" stroke-width="1.9" fill="none"/><path d="M147.5 229.0H159.7M153.6 222.9V235.1" stroke="#ee1c25" stroke-width="1.9" fill="none"/><path d="M152.9 229.0H165.1M159.0 222.9V235.1" stroke="#ee1c25" stroke-width="1.9" fill="none"/><path d="M158.2 225.4H170.4M164.3 219.3V231.5" stroke="#ee1c25" stroke-width="1.9" fill="none"/><path d="M163.5 213.4H175.7M169.6 207.3V219.5" stroke="#ee1c25" stroke-width="1.9" fill="none"/><path d="M168.8 182.5H181.0M174.9 176.4V188.6" stroke="#ee1c25" stroke-width="1.9" fill="none"/><path d="M174.2 169.5H186.4M180.3 163.4V175.6" stroke="#ee1c25" stroke-width="1.9" fill="none"/><path d="M179.5 195.8H191.7M185.6 189.7V201.9" stroke="#ee1c25" stroke-width="1.9" fill="none"/><path d="M184.8 210.8H197.0M190.9 204.7V216.9" stroke="#ee1c25" stroke-width="1.9" fill="none"/><path d="M190.1 212.7H202.3M196.2 206.6V218.8" stroke="#ee1c25" stroke-width="1.9" fill="none"/><path d="M195.5 202.4H207.7M201.6 196.3V208.5" stroke="#ee1c25" stroke-width="1.9" fill="none"/><path d="M200.8 189.5H213.0M206.9 183.4V195.6" stroke="#ee1c25" stroke-width="1.9" fill="none"/><path d="M206.1 200.5H218.3M212.2 194.4V206.6" stroke="#ee1c25" stroke-width="1.9" fill="none"/><path d="M211.4 217.0H223.6M217.5 210.9V223.1" stroke="#ee1c25" stroke-width="1.9" fill="none"/><path d="M216.8 220.2H229.0M222.9 214.1V226.3" stroke="#ee1c25" stroke-width="1.9" fill="none"/><path d="M222.1 219.0H234.3M228.2 212.9V225.1" stroke="#ee1c25" stroke-width="1.9" fill="none"/><path d="M227.4 210.0H239.6M233.5 203.9V216.1" stroke="#ee1c25" stroke-width="1.9" fill="none"/><path d="M232.7 184.0H244.9M238.8 177.9V190.1" stroke="#ee1c25" stroke-width="1.9" fill="none"/><path d="M238.1 160.0H250.3M244.2 153.9V166.1" stroke="#ee1c25" stroke-width="1.9" fill="none"/><path d="M243.4 140.0H255.6M249.5 133.9V146.1" stroke="#ee1c25" stroke-width="1.9" fill="none"/><path d="M248.7 118.0H260.9M254.8 111.9V124.1" stroke="#ee1c25" stroke-width="1.9" fill="none"/><path d="M254.0 142.0H266.2M260.1 135.9V148.1" stroke="#ee1c25" stroke-width="1.9" fill="none"/><path d="M259.4 166.0H271.6M265.5 159.9V172.1" stroke="#ee1c25" stroke-width="1.9" fill="none"/><path d="M264.7 186.0H276.9M270.8 179.9V192.1" stroke="#ee1c25" stroke-width="1.9" fill="none"/><path d="M270.0 203.0H282.2M276.1 196.9V209.1" stroke="#ee1c25" stroke-width="1.9" fill="none"/><path d="M275.3 215.0H287.5M281.4 208.9V221.1" stroke="#ee1c25" stroke-width="1.9" fill="none"/><path d="M280.7 224.0H292.9M286.8 217.9V230.1" stroke="#ee1c25" stroke-width="1.9" fill="none"/><path d="M286.0 230.0H298.2M292.1 223.9V236.1" stroke="#ee1c25" stroke-width="1.9" fill="none"/><path d="M291.3 233.6H303.5M297.4 227.5V239.7" stroke="#ee1c25" stroke-width="1.9" fill="none"/><path d="M296.6 230.0H308.8M302.7 223.9V236.1" stroke="#ee1c25" stroke-width="1.9" fill="none"/><path d="M301.9 224.0H314.1M308.0 217.9V230.1" stroke="#ee1c25" stroke-width="1.9" fill="none"/><path d="M307.3 215.0H319.5M313.4 208.9V221.1" stroke="#ee1c25" stroke-width="1.9" fill="none"/><path d="M312.6 203.0H324.8M318.7 196.9V209.1" stroke="#ee1c25" stroke-width="1.9" fill="none"/><path d="M317.9 186.0H330.1M324.0 179.9V192.1" stroke="#ee1c25" stroke-width="1.9" fill="none"/><path d="M323.2 166.0H335.4M329.3 159.9V172.1" stroke="#ee1c25" stroke-width="1.9" fill="none"/><path d="M328.6 142.0H340.8M334.7 135.9V148.1" stroke="#ee1c25" stroke-width="1.9" fill="none"/><path d="M333.9 118.0H346.1M340.0 111.9V124.1" stroke="#ee1c25" stroke-width="1.9" fill="none"/><path d="M339.2 140.0H351.4M345.3 133.9V146.1" stroke="#ee1c25" stroke-width="1.9" fill="none"/><path d="M344.5 160.0H356.7M350.6 153.9V166.1" stroke="#ee1c25" stroke-width="1.9" fill="none"/><path d="M349.9 184.0H362.1M356.0 177.9V190.1" stroke="#ee1c25" stroke-width="1.9" fill="none"/><path d="M355.2 210.0H367.4M361.3 203.9V216.1" stroke="#ee1c25" stroke-width="1.9" fill="none"/><path d="M360.5 219.0H372.7M366.6 212.9V225.1" stroke="#ee1c25" stroke-width="1.9" fill="none"/><path d="M365.8 220.2H378.0M371.9 214.1V226.3" stroke="#ee1c25" stroke-width="1.9" fill="none"/><path d="M371.2 217.0H383.4M377.3 210.9V223.1" stroke="#ee1c25" stroke-width="1.9" fill="none"/><path d="M376.5 200.5H388.7M382.6 194.4V206.6" stroke="#ee1c25" stroke-width="1.9" fill="none"/><path d="M381.8 189.5H394.0M387.9 183.4V195.6" stroke="#ee1c25" stroke-width="1.9" fill="none"/><path d="M387.1 202.4H399.3M393.2 196.3V208.5" stroke="#ee1c25" stroke-width="1.9" fill="none"/><path d="M392.5 212.7H404.7M398.6 206.6V218.8" stroke="#ee1c25" stroke-width="1.9" fill="none"/><path d="M397.8 210.8H410.0M403.9 204.7V216.9" stroke="#ee1c25" stroke-width="1.9" fill="none"/><path d="M403.1 195.8H415.3M409.2 189.7V201.9" stroke="#ee1c25" stroke-width="1.9" fill="none"/><path d="M408.4 169.5H420.6M414.5 163.4V175.6" stroke="#ee1c25" stroke-width="1.9" fill="none"/><path d="M413.8 182.5H426.0M419.9 176.4V188.6" stroke="#ee1c25" stroke-width="1.9" fill="none"/><path d="M419.1 213.4H431.3M425.2 207.3V219.5" stroke="#ee1c25" stroke-width="1.9" fill="none"/><path d="M424.4 225.4H436.6M430.5 219.3V231.5" stroke="#ee1c25" stroke-width="1.9" fill="none"/><path d="M429.7 229.0H441.9M435.8 222.9V235.1" stroke="#ee1c25" stroke-width="1.9" fill="none"/><path d="M435.1 229.0H447.3M441.2 222.9V235.1" stroke="#ee1c25" stroke-width="1.9" fill="none"/><path d="M440.4 217.9H452.6M446.5 211.8V224.0" stroke="#ee1c25" stroke-width="1.9" fill="none"/><path d="M445.7 199.8H457.9M451.8 193.7V205.9" stroke="#ee1c25" stroke-width="1.9" fill="none"/><path d="M451.0 213.4H463.2M457.1 207.3V219.5" stroke="#ee1c25" stroke-width="1.9" fill="none"/><path d="M456.4 205.0H468.6M462.5 198.9V211.1" stroke="#ee1c25" stroke-width="1.9" fill="none"/><path d="M461.7 203.6H473.9M467.8 197.5V209.7" stroke="#ee1c25" stroke-width="1.9" fill="none"/><path d="M467.0 206.6H479.2M473.1 200.5V212.7" stroke="#ee1c25" stroke-width="1.9" fill="none"/><path d="M472.3 210.0H484.5M478.4 203.9V216.1" stroke="#ee1c25" stroke-width="1.9" fill="none"/><path d="M477.7 212.0H489.9M483.8 205.9V218.1" stroke="#ee1c25" stroke-width="1.9" fill="none"/><path d="M483.0 203.0H495.2M489.1 196.9V209.1" stroke="#ee1c25" stroke-width="1.9" fill="none"/><path d="M488.3 193.0H500.5M494.4 186.9V199.1" stroke="#ee1c25" stroke-width="1.9" fill="none"/><path d="M493.6 182.0H505.8M499.7 175.9V188.1" stroke="#ee1c25" stroke-width="1.9" fill="none"/><path d="M499.0 170.0H511.2M505.1 163.9V176.1" stroke="#ee1c25" stroke-width="1.9" fill="none"/><path d="M504.3 159.0H516.5M510.4 152.9V165.1" stroke="#ee1c25" stroke-width="1.9" fill="none"/><path d="M509.6 149.0H521.8M515.7 142.9V155.1" stroke="#ee1c25" stroke-width="1.9" fill="none"/></g>
<path d="M57.8 38.5L63.1 54.3L68.4 83.5L73.8 105.8L79.1 130.6L84.4 152.0L89.7 169.0L95.1 185.0L100.4 199.5L105.7 214.0L111.0 227.5L116.4 244.4L121.7 259.1L127.0 268.9L132.3 281.1L137.7 287.2L143.0 293.3L148.3 297.0L153.6 295.8L159.0 303.1L164.3 303.6L169.6 293.3L174.9 253.0L180.3 246.9L185.6 281.1L190.9 301.9L196.2 303.6L201.6 302.6L206.9 300.2L212.2 298.2L217.5 287.2L222.9 268.9L228.2 246.0L233.5 216.0L238.8 185.0L244.2 160.5L249.5 140.0L254.8 118.0L260.1 140.0L265.5 168.0L270.8 188.0L276.1 222.0L281.4 247.0L286.8 269.0L292.1 273.3L297.4 275.7L302.7 273.3L308.0 269.0L313.4 247.0L318.7 222.0L324.0 188.0L329.3 168.0L334.7 140.0L340.0 118.0L345.3 140.0L350.6 160.5L356.0 185.0L361.3 216.0L366.6 246.0L371.9 268.9L377.3 287.2L382.6 298.2L387.9 300.2L393.2 302.6L398.6 303.6L403.9 301.9L409.2 281.1L414.5 246.9L419.9 253.0L425.2 293.3L430.5 303.6L435.8 303.1L441.2 295.8L446.5 297.0L451.8 293.3L457.1 287.2L462.5 281.1L467.8 268.9L473.1 259.1L478.4 244.4L483.8 227.5L489.1 214.0L494.4 199.0L499.7 185.0L505.1 172.0L510.4 160.0L515.7 150.0" stroke="#ee1c25" stroke-width="1.8" fill="none" stroke-linejoin="round" stroke-dasharray="2 2.8"/>
<g><path d="M57.8 31.9L63.1 41.8H52.5Z" stroke="#ee1c25" stroke-width="2.1" fill="none" stroke-linejoin="miter"/><path d="M63.1 47.7L68.4 57.6H57.8Z" stroke="#ee1c25" stroke-width="2.1" fill="none" stroke-linejoin="miter"/><path d="M68.4 76.9L73.7 86.8H63.1Z" stroke="#ee1c25" stroke-width="2.1" fill="none" stroke-linejoin="miter"/><path d="M73.8 99.2L79.1 109.1H68.5Z" stroke="#ee1c25" stroke-width="2.1" fill="none" stroke-linejoin="miter"/><path d="M79.1 124.0L84.4 133.9H73.8Z" stroke="#ee1c25" stroke-width="2.1" fill="none" stroke-linejoin="miter"/><path d="M84.4 145.4L89.7 155.3H79.1Z" stroke="#ee1c25" stroke-width="2.1" fill="none" stroke-linejoin="miter"/><path d="M89.7 162.4L95.0 172.3H84.4Z" stroke="#ee1c25" stroke-width="2.1" fill="none" stroke-linejoin="miter"/><path d="M95.1 178.4L100.4 188.3H89.8Z" stroke="#ee1c25" stroke-width="2.1" fill="none" stroke-linejoin="miter"/><path d="M100.4 192.9L105.7 202.8H95.1Z" stroke="#ee1c25" stroke-width="2.1" fill="none" stroke-linejoin="miter"/><path d="M105.7 207.4L111.0 217.3H100.4Z" stroke="#ee1c25" stroke-width="2.1" fill="none" stroke-linejoin="miter"/><path d="M111.0 220.9L116.3 230.8H105.7Z" stroke="#ee1c25" stroke-width="2.1" fill="none" stroke-linejoin="miter"/><path d="M116.4 237.8L121.7 247.7H111.1Z" stroke="#ee1c25" stroke-width="2.1" fill="none" stroke-linejoin="miter"/><path d="M121.7 252.5L127.0 262.4H116.4Z" stroke="#ee1c25" stroke-width="2.1" fill="none" stroke-linejoin="miter"/><path d="M127.0 262.3L132.3 272.2H121.7Z" stroke="#ee1c25" stroke-width="2.1" fill="none" stroke-linejoin="miter"/><path d="M132.3 274.5L137.6 284.4H127.0Z" stroke="#ee1c25" stroke-width="2.1" fill="none" stroke-linejoin="miter"/><path d="M137.7 280.6L143.0 290.5H132.4Z" stroke="#ee1c25" stroke-width="2.1" fill="none" stroke-linejoin="miter"/><path d="M143.0 286.7L148.3 296.6H137.7Z" stroke="#ee1c25" stroke-width="2.1" fill="none" stroke-linejoin="miter"/><path d="M148.3 290.4L153.6 300.3H143.0Z" stroke="#ee1c25" stroke-width="2.1" fill="none" stroke-linejoin="miter"/><path d="M153.6 289.2L158.9 299.1H148.3Z" stroke="#ee1c25" stroke-width="2.1" fill="none" stroke-linejoin="miter"/><path d="M159.0 296.5L164.3 306.4H153.7Z" stroke="#ee1c25" stroke-width="2.1" fill="none" stroke-linejoin="miter"/><path d="M164.3 297.0L169.6 306.9H159.0Z" stroke="#ee1c25" stroke-width="2.1" fill="none" stroke-linejoin="miter"/><path d="M169.6 286.7L174.9 296.6H164.3Z" stroke="#ee1c25" stroke-width="2.1" fill="none" stroke-linejoin="miter"/><path d="M174.9 246.4L180.2 256.3H169.6Z" stroke="#ee1c25" stroke-width="2.1" fill="none" stroke-linejoin="miter"/><path d="M180.3 240.3L185.6 250.2H175.0Z" stroke="#ee1c25" stroke-width="2.1" fill="none" stroke-linejoin="miter"/><path d="M185.6 274.5L190.9 284.4H180.3Z" stroke="#ee1c25" stroke-width="2.1" fill="none" stroke-linejoin="miter"/><path d="M190.9 295.3L196.2 305.2H185.6Z" stroke="#ee1c25" stroke-width="2.1" fill="none" stroke-linejoin="miter"/><path d="M196.2 297.0L201.5 306.9H190.9Z" stroke="#ee1c25" stroke-width="2.1" fill="none" stroke-linejoin="miter"/><path d="M201.6 296.0L206.9 305.9H196.3Z" stroke="#ee1c25" stroke-width="2.1" fill="none" stroke-linejoin="miter"/><path d="M206.9 293.6L212.2 303.5H201.6Z" stroke="#ee1c25" stroke-width="2.1" fill="none" stroke-linejoin="miter"/><path d="M212.2 291.6L217.5 301.5H206.9Z" stroke="#ee1c25" stroke-width="2.1" fill="none" stroke-linejoin="miter"/><path d="M217.5 280.6L222.8 290.5H212.2Z" stroke="#ee1c25" stroke-width="2.1" fill="none" stroke-linejoin="miter"/><path d="M222.9 262.3L228.2 272.2H217.6Z" stroke="#ee1c25" stroke-width="2.1" fill="none" stroke-linejoin="miter"/><path d="M228.2 239.4L233.5 249.3H222.9Z" stroke="#ee1c25" stroke-width="2.1" fill="none" stroke-linejoin="miter"/><path d="M233.5 209.4L238.8 219.3H228.2Z" stroke="#ee1c25" stroke-width="2.1" fill="none" stroke-linejoin="miter"/><path d="M238.8 178.4L244.1 188.3H233.5Z" stroke="#ee1c25" stroke-width="2.1" fill="none" stroke-linejoin="miter"/><path d="M244.2 153.9L249.5 163.8H238.9Z" stroke="#ee1c25" stroke-width="2.1" fill="none" stroke-linejoin="miter"/><path d="M249.5 133.4L254.8 143.3H244.2Z" stroke="#ee1c25" stroke-width="2.1" fill="none" stroke-linejoin="miter"/><path d="M254.8 111.4L260.1 121.3H249.5Z" stroke="#ee1c25" stroke-width="2.1" fill="none" stroke-linejoin="miter"/><path d="M260.1 133.4L265.4 143.3H254.8Z" stroke="#ee1c25" stroke-width="2.1" fill="none" stroke-linejoin="miter"/><path d="M265.5 161.4L270.8 171.3H260.2Z" stroke="#ee1c25" stroke-width="2.1" fill="none" stroke-linejoin="miter"/><path d="M270.8 181.4L276.1 191.3H265.5Z" stroke="#ee1c25" stroke-width="2.1" fill="none" stroke-linejoin="miter"/><path d="M276.1 215.4L281.4 225.3H270.8Z" stroke="#ee1c25" stroke-width="2.1" fill="none" stroke-linejoin="miter"/><path d="M281.4 240.4L286.7 250.3H276.1Z" stroke="#ee1c25" stroke-width="2.1" fill="none" stroke-linejoin="miter"/><path d="M286.8 262.4L292.1 272.3H281.5Z" stroke="#ee1c25" stroke-width="2.1" fill="none" stroke-linejoin="miter"/><path d="M292.1 266.7L297.4 276.6H286.8Z" stroke="#ee1c25" stroke-width="2.1" fill="none" stroke-linejoin="miter"/><path d="M297.4 269.1L302.7 279.0H292.1Z" stroke="#ee1c25" stroke-width="2.1" fill="none" stroke-linejoin="miter"/><path d="M302.7 266.7L308.0 276.6H297.4Z" stroke="#ee1c25" stroke-width="2.1" fill="none" stroke-linejoin="miter"/><path d="M308.0 262.4L313.3 272.3H302.7Z" stroke="#ee1c25" stroke-width="2.1" fill="none" stroke-linejoin="miter"/><path d="M313.4 240.4L318.7 250.3H308.1Z" stroke="#ee1c25" stroke-width="2.1" fill="none" stroke-linejoin="miter"/><path d="M318.7 215.4L324.0 225.3H313.4Z" stroke="#ee1c25" stroke-width="2.1" fill="none" stroke-linejoin="miter"/><path d="M324.0 181.4L329.3 191.3H318.7Z" stroke="#ee1c25" stroke-width="2.1" fill="none" stroke-linejoin="miter"/><path d="M329.3 161.4L334.6 171.3H324.0Z" stroke="#ee1c25" stroke-width="2.1" fill="none" stroke-linejoin="miter"/><path d="M334.7 133.4L340.0 143.3H329.4Z" stroke="#ee1c25" stroke-width="2.1" fill="none" stroke-linejoin="miter"/><path d="M340.0 111.4L345.3 121.3H334.7Z" stroke="#ee1c25" stroke-width="2.1" fill="none" stroke-linejoin="miter"/><path d="M345.3 133.4L350.6 143.3H340.0Z" stroke="#ee1c25" stroke-width="2.1" fill="none" stroke-linejoin="miter"/><path d="M350.6 153.9L355.9 163.8H345.3Z" stroke="#ee1c25" stroke-width="2.1" fill="none" stroke-linejoin="miter"/><path d="M356.0 178.4L361.3 188.3H350.7Z" stroke="#ee1c25" stroke-width="2.1" fill="none" stroke-linejoin="miter"/><path d="M361.3 209.4L366.6 219.3H356.0Z" stroke="#ee1c25" stroke-width="2.1" fill="none" stroke-linejoin="miter"/><path d="M366.6 239.4L371.9 249.3H361.3Z" stroke="#ee1c25" stroke-width="2.1" fill="none" stroke-linejoin="miter"/><path d="M371.9 262.3L377.2 272.2H366.6Z" stroke="#ee1c25" stroke-width="2.1" fill="none" stroke-linejoin="miter"/><path d="M377.3 280.6L382.6 290.5H372.0Z" stroke="#ee1c25" stroke-width="2.1" fill="none" stroke-linejoin="miter"/><path d="M382.6 291.6L387.9 301.5H377.3Z" stroke="#ee1c25" stroke-width="2.1" fill="none" stroke-linejoin="miter"/><path d="M387.9 293.6L393.2 303.5H382.6Z" stroke="#ee1c25" stroke-width="2.1" fill="none" stroke-linejoin="miter"/><path d="M393.2 296.0L398.5 305.9H387.9Z" stroke="#ee1c25" stroke-width="2.1" fill="none" stroke-linejoin="miter"/><path d="M398.6 297.0L403.9 306.9H393.3Z" stroke="#ee1c25" stroke-width="2.1" fill="none" stroke-linejoin="miter"/><path d="M403.9 295.3L409.2 305.2H398.6Z" stroke="#ee1c25" stroke-width="2.1" fill="none" stroke-linejoin="miter"/><path d="M409.2 274.5L414.5 284.4H403.9Z" stroke="#ee1c25" stroke-width="2.1" fill="none" stroke-linejoin="miter"/><path d="M414.5 240.3L419.8 250.2H409.2Z" stroke="#ee1c25" stroke-width="2.1" fill="none" stroke-linejoin="miter"/><path d="M419.9 246.4L425.2 256.3H414.6Z" stroke="#ee1c25" stroke-width="2.1" fill="none" stroke-linejoin="miter"/><path d="M425.2 286.7L430.5 296.6H419.9Z" stroke="#ee1c25" stroke-width="2.1" fill="none" stroke-linejoin="miter"/><path d="M430.5 297.0L435.8 306.9H425.2Z" stroke="#ee1c25" stroke-width="2.1" fill="none" stroke-linejoin="miter"/><path d="M435.8 296.5L441.1 306.4H430.5Z" stroke="#ee1c25" stroke-width="2.1" fill="none" stroke-linejoin="miter"/><path d="M441.2 289.2L446.5 299.1H435.9Z" stroke="#ee1c25" stroke-width="2.1" fill="none" stroke-linejoin="miter"/><path d="M446.5 290.4L451.8 300.3H441.2Z" stroke="#ee1c25" stroke-width="2.1" fill="none" stroke-linejoin="miter"/><path d="M451.8 286.7L457.1 296.6H446.5Z" stroke="#ee1c25" stroke-width="2.1" fill="none" stroke-linejoin="miter"/><path d="M457.1 280.6L462.4 290.5H451.8Z" stroke="#ee1c25" stroke-width="2.1" fill="none" stroke-linejoin="miter"/><path d="M462.5 274.5L467.8 284.4H457.2Z" stroke="#ee1c25" stroke-width="2.1" fill="none" stroke-linejoin="miter"/><path d="M467.8 262.3L473.1 272.2H462.5Z" stroke="#ee1c25" stroke-width="2.1" fill="none" stroke-linejoin="miter"/><path d="M473.1 252.5L478.4 262.4H467.8Z" stroke="#ee1c25" stroke-width="2.1" fill="none" stroke-linejoin="miter"/><path d="M478.4 237.8L483.7 247.7H473.1Z" stroke="#ee1c25" stroke-width="2.1" fill="none" stroke-linejoin="miter"/><path d="M483.8 220.9L489.1 230.8H478.5Z" stroke="#ee1c25" stroke-width="2.1" fill="none" stroke-linejoin="miter"/><path d="M489.1 207.4L494.4 217.3H483.8Z" stroke="#ee1c25" stroke-width="2.1" fill="none" stroke-linejoin="miter"/><path d="M494.4 192.4L499.7 202.3H489.1Z" stroke="#ee1c25" stroke-width="2.1" fill="none" stroke-linejoin="miter"/><path d="M499.7 178.4L505.0 188.3H494.4Z" stroke="#ee1c25" stroke-width="2.1" fill="none" stroke-linejoin="miter"/><path d="M505.1 165.4L510.4 175.3H499.8Z" stroke="#ee1c25" stroke-width="2.1" fill="none" stroke-linejoin="miter"/><path d="M510.4 153.4L515.7 163.3H505.1Z" stroke="#ee1c25" stroke-width="2.1" fill="none" stroke-linejoin="miter"/><path d="M515.7 143.4L521.0 153.3H510.4Z" stroke="#ee1c25" stroke-width="2.1" fill="none" stroke-linejoin="miter"/></g>
<path d="M57.8 38.0L63.1 60.0L68.4 93.0L73.8 119.0L79.1 146.0L84.4 171.0L89.7 196.0L95.1 229.0L100.4 256.7L105.7 277.4L111.0 287.2L116.4 314.1L121.7 332.6L127.0 355.2L132.3 372.7L137.7 391.9L143.0 396.1L148.3 419.1L153.6 429.3L159.0 436.7L164.3 469.2L169.6 481.4L174.9 440.5L180.3 432.5L185.6 445.6L190.9 429.3L196.2 412.0L201.6 441.4L206.9 422.9L212.2 443.0L217.5 444.6L222.9 428.7L228.2 423.5L233.5 367.5L238.8 325.0L244.2 273.3L249.5 224.0L254.8 196.6L260.1 237.2L265.5 288.3L270.8 331.0L276.1 386.3L281.4 419.8L286.8 442.2L292.1 468.4L297.4 450.2L302.7 468.4L308.0 442.2L313.4 419.8L318.7 386.3L324.0 331.0L329.3 288.3L334.7 237.2L340.0 196.6L345.3 224.0L350.6 273.3L356.0 325.0L361.3 367.5L366.6 423.5L371.9 428.7L377.3 444.6L382.6 443.0L387.9 422.9L393.2 441.4L398.6 412.0L403.9 429.3L409.2 445.6L414.5 432.5L419.9 440.5L425.2 481.4L430.5 469.2L435.8 436.7L441.2 429.3L446.5 419.1L451.8 396.1L457.1 391.9L462.5 372.7L467.8 355.2L473.1 332.6L478.4 314.1L483.8 287.2L489.1 277.4L494.4 256.7L499.7 229.0L505.1 196.0L510.4 171.0L515.7 146.0" stroke="#ee1c25" stroke-width="1.8" fill="none" stroke-linejoin="round" stroke-dasharray="2 2.8"/>
<g><rect x="53.8" y="34.0" width="7.9" height="7.9" stroke="#ee1c25" stroke-width="2.1" fill="none"/><rect x="59.2" y="56.0" width="7.9" height="7.9" stroke="#ee1c25" stroke-width="2.1" fill="none"/><rect x="64.5" y="89.0" width="7.9" height="7.9" stroke="#ee1c25" stroke-width="2.1" fill="none"/><rect x="69.8" y="115.0" width="7.9" height="7.9" stroke="#ee1c25" stroke-width="2.1" fill="none"/><rect x="75.1" y="142.1" width="7.9" height="7.9" stroke="#ee1c25" stroke-width="2.1" fill="none"/><rect x="80.5" y="167.1" width="7.9" height="7.9" stroke="#ee1c25" stroke-width="2.1" fill="none"/><rect x="85.8" y="192.1" width="7.9" height="7.9" stroke="#ee1c25" stroke-width="2.1" fill="none"/><rect x="91.1" y="225.1" width="7.9" height="7.9" stroke="#ee1c25" stroke-width="2.1" fill="none"/><rect x="96.4" y="252.8" width="7.9" height="7.9" stroke="#ee1c25" stroke-width="2.1" fill="none"/><rect x="101.8" y="273.4" width="7.9" height="7.9" stroke="#ee1c25" stroke-width="2.1" fill="none"/><rect x="107.1" y="283.2" width="7.9" height="7.9" stroke="#ee1c25" stroke-width="2.1" fill="none"/><rect x="112.4" y="310.2" width="7.9" height="7.9" stroke="#ee1c25" stroke-width="2.1" fill="none"/><rect x="117.7" y="328.7" width="7.9" height="7.9" stroke="#ee1c25" stroke-width="2.1" fill="none"/><rect x="123.1" y="351.2" width="7.9" height="7.9" stroke="#ee1c25" stroke-width="2.1" fill="none"/><rect x="128.4" y="368.8" width="7.9" height="7.9" stroke="#ee1c25" stroke-width="2.1" fill="none"/><rect x="133.7" y="387.9" width="7.9" height="7.9" stroke="#ee1c25" stroke-width="2.1" fill="none"/><rect x="139.0" y="392.2" width="7.9" height="7.9" stroke="#ee1c25" stroke-width="2.1" fill="none"/><rect x="144.4" y="415.2" width="7.9" height="7.9" stroke="#ee1c25" stroke-width="2.1" fill="none"/><rect x="149.7" y="425.4" width="7.9" height="7.9" stroke="#ee1c25" stroke-width="2.1" fill="none"/><rect x="155.0" y="432.8" width="7.9" height="7.9" stroke="#ee1c25" stroke-width="2.1" fill="none"/><rect x="160.3" y="465.2" width="7.9" height="7.9" stroke="#ee1c25" stroke-width="2.1" fill="none"/><rect x="165.7" y="477.4" width="7.9" height="7.9" stroke="#ee1c25" stroke-width="2.1" fill="none"/><rect x="171.0" y="436.6" width="7.9" height="7.9" stroke="#ee1c25" stroke-width="2.1" fill="none"/><rect x="176.3" y="428.6" width="7.9" height="7.9" stroke="#ee1c25" stroke-width="2.1" fill="none"/><rect x="181.6" y="441.7" width="7.9" height="7.9" stroke="#ee1c25" stroke-width="2.1" fill="none"/><rect x="187.0" y="425.4" width="7.9" height="7.9" stroke="#ee1c25" stroke-width="2.1" fill="none"/><rect x="192.3" y="408.1" width="7.9" height="7.9" stroke="#ee1c25" stroke-width="2.1" fill="none"/><rect x="197.6" y="437.4" width="7.9" height="7.9" stroke="#ee1c25" stroke-width="2.1" fill="none"/><rect x="202.9" y="418.9" width="7.9" height="7.9" stroke="#ee1c25" stroke-width="2.1" fill="none"/><rect x="208.3" y="439.1" width="7.9" height="7.9" stroke="#ee1c25" stroke-width="2.1" fill="none"/><rect x="213.6" y="440.7" width="7.9" height="7.9" stroke="#ee1c25" stroke-width="2.1" fill="none"/><rect x="218.9" y="424.8" width="7.9" height="7.9" stroke="#ee1c25" stroke-width="2.1" fill="none"/><rect x="224.2" y="419.6" width="7.9" height="7.9" stroke="#ee1c25" stroke-width="2.1" fill="none"/><rect x="229.6" y="363.6" width="7.9" height="7.9" stroke="#ee1c25" stroke-width="2.1" fill="none"/><rect x="234.9" y="321.1" width="7.9" height="7.9" stroke="#ee1c25" stroke-width="2.1" fill="none"/><rect x="240.2" y="269.4" width="7.9" height="7.9" stroke="#ee1c25" stroke-width="2.1" fill="none"/><rect x="245.5" y="220.1" width="7.9" height="7.9" stroke="#ee1c25" stroke-width="2.1" fill="none"/><rect x="250.9" y="192.7" width="7.9" height="7.9" stroke="#ee1c25" stroke-width="2.1" fill="none"/><rect x="256.2" y="233.2" width="7.9" height="7.9" stroke="#ee1c25" stroke-width="2.1" fill="none"/><rect x="261.5" y="284.4" width="7.9" height="7.9" stroke="#ee1c25" stroke-width="2.1" fill="none"/><rect x="266.8" y="327.1" width="7.9" height="7.9" stroke="#ee1c25" stroke-width="2.1" fill="none"/><rect x="272.2" y="382.4" width="7.9" height="7.9" stroke="#ee1c25" stroke-width="2.1" fill="none"/><rect x="277.5" y="415.9" width="7.9" height="7.9" stroke="#ee1c25" stroke-width="2.1" fill="none"/><rect x="282.8" y="438.2" width="7.9" height="7.9" stroke="#ee1c25" stroke-width="2.1" fill="none"/><rect x="288.1" y="464.4" width="7.9" height="7.9" stroke="#ee1c25" stroke-width="2.1" fill="none"/><rect x="293.4" y="446.2" width="7.9" height="7.9" stroke="#ee1c25" stroke-width="2.1" fill="none"/><rect x="298.8" y="464.4" width="7.9" height="7.9" stroke="#ee1c25" stroke-width="2.1" fill="none"/><rect x="304.1" y="438.2" width="7.9" height="7.9" stroke="#ee1c25" stroke-width="2.1" fill="none"/><rect x="309.4" y="415.9" width="7.9" height="7.9" stroke="#ee1c25" stroke-width="2.1" fill="none"/><rect x="314.7" y="382.4" width="7.9" height="7.9" stroke="#ee1c25" stroke-width="2.1" fill="none"/><rect x="320.1" y="327.1" width="7.9" height="7.9" stroke="#ee1c25" stroke-width="2.1" fill="none"/><rect x="325.4" y="284.4" width="7.9" height="7.9" stroke="#ee1c25" stroke-width="2.1" fill="none"/><rect x="330.7" y="233.2" width="7.9" height="7.9" stroke="#ee1c25" stroke-width="2.1" fill="none"/><rect x="336.0" y="192.7" width="7.9" height="7.9" stroke="#ee1c25" stroke-width="2.1" fill="none"/><rect x="341.4" y="220.1" width="7.9" height="7.9" stroke="#ee1c25" stroke-width="2.1" fill="none"/><rect x="346.7" y="269.4" width="7.9" height="7.9" stroke="#ee1c25" stroke-width="2.1" fill="none"/><rect x="352.0" y="321.1" width="7.9" height="7.9" stroke="#ee1c25" stroke-width="2.1" fill="none"/><rect x="357.3" y="363.6" width="7.9" height="7.9" stroke="#ee1c25" stroke-width="2.1" fill="none"/><rect x="362.7" y="419.6" width="7.9" height="7.9" stroke="#ee1c25" stroke-width="2.1" fill="none"/><rect x="368.0" y="424.8" width="7.9" height="7.9" stroke="#ee1c25" stroke-width="2.1" fill="none"/><rect x="373.3" y="440.7" width="7.9" height="7.9" stroke="#ee1c25" stroke-width="2.1" fill="none"/><rect x="378.6" y="439.1" width="7.9" height="7.9" stroke="#ee1c25" stroke-width="2.1" fill="none"/><rect x="384.0" y="418.9" width="7.9" height="7.9" stroke="#ee1c25" stroke-width="2.1" fill="none"/><rect x="389.3" y="437.4" width="7.9" height="7.9" stroke="#ee1c25" stroke-width="2.1" fill="none"/><rect x="394.6" y="408.1" width="7.9" height="7.9" stroke="#ee1c25" stroke-width="2.1" fill="none"/><rect x="399.9" y="425.4" width="7.9" height="7.9" stroke="#ee1c25" stroke-width="2.1" fill="none"/><rect x="405.3" y="441.7" width="7.9" height="7.9" stroke="#ee1c25" stroke-width="2.1" fill="none"/><rect x="410.6" y="428.6" width="7.9" height="7.9" stroke="#ee1c25" stroke-width="2.1" fill="none"/><rect x="415.9" y="436.6" width="7.9" height="7.9" stroke="#ee1c25" stroke-width="2.1" fill="none"/><rect x="421.2" y="477.4" width="7.9" height="7.9" stroke="#ee1c25" stroke-width="2.1" fill="none"/><rect x="426.6" y="465.2" width="7.9" height="7.9" stroke="#ee1c25" stroke-width="2.1" fill="none"/><rect x="431.9" y="432.8" width="7.9" height="7.9" stroke="#ee1c25" stroke-width="2.1" fill="none"/><rect x="437.2" y="425.4" width="7.9" height="7.9" stroke="#ee1c25" stroke-width="2.1" fill="none"/><rect x="442.5" y="415.2" width="7.9" height="7.9" stroke="#ee1c25" stroke-width="2.1" fill="none"/><rect x="447.9" y="392.2" width="7.9" height="7.9" stroke="#ee1c25" stroke-width="2.1" fill="none"/><rect x="453.2" y="387.9" width="7.9" height="7.9" stroke="#ee1c25" stroke-width="2.1" fill="none"/><rect x="458.5" y="368.8" width="7.9" height="7.9" stroke="#ee1c25" stroke-width="2.1" fill="none"/><rect x="463.8" y="351.2" width="7.9" height="7.9" stroke="#ee1c25" stroke-width="2.1" fill="none"/><rect x="469.2" y="328.7" width="7.9" height="7.9" stroke="#ee1c25" stroke-width="2.1" fill="none"/><rect x="474.5" y="310.2" width="7.9" height="7.9" stroke="#ee1c25" stroke-width="2.1" fill="none"/><rect x="479.8" y="283.2" width="7.9" height="7.9" stroke="#ee1c25" stroke-width="2.1" fill="none"/><rect x="485.1" y="273.4" width="7.9" height="7.9" stroke="#ee1c25" stroke-width="2.1" fill="none"/><rect x="490.5" y="252.8" width="7.9" height="7.9" stroke="#ee1c25" stroke-width="2.1" fill="none"/><rect x="495.8" y="225.1" width="7.9" height="7.9" stroke="#ee1c25" stroke-width="2.1" fill="none"/><rect x="501.1" y="192.1" width="7.9" height="7.9" stroke="#ee1c25" stroke-width="2.1" fill="none"/><rect x="506.4" y="167.1" width="7.9" height="7.9" stroke="#ee1c25" stroke-width="2.1" fill="none"/><rect x="511.8" y="142.1" width="7.9" height="7.9" stroke="#ee1c25" stroke-width="2.1" fill="none"/></g>
</g>
<g font-family="'Liberation Serif',serif" fill="#303030" font-size="17">
<text x="57.8" y="506.8" text-anchor="middle">0</text>
<text x="111.0" y="506.8" text-anchor="middle">10</text>
<text x="164.3" y="506.8" text-anchor="middle">20</text>
<text x="217.5" y="506.8" text-anchor="middle">30</text>
<text x="270.8" y="506.8" text-anchor="middle">40</text>
<text x="324.0" y="506.8" text-anchor="middle">50</text>
<text x="377.3" y="506.8" text-anchor="middle">60</text>
<text x="430.5" y="506.8" text-anchor="middle">70</text>
<text x="483.8" y="506.8" text-anchor="middle">80</text>
<text x="537.0" y="506.8" text-anchor="middle">90</text>
<text x="41.5" y="488.6" text-anchor="end">10</text>
<text x="42.3" y="481.0" font-size="11.5">-6</text>
<text x="41.5" y="408.7" text-anchor="end">10</text>
<text x="42.3" y="401.1" font-size="11.5">-5</text>
<text x="41.5" y="328.8" text-anchor="end">10</text>
<text x="42.3" y="321.2" font-size="11.5">-4</text>
<text x="41.5" y="248.8" text-anchor="end">10</text>
<text x="42.3" y="241.2" font-size="11.5">-3</text>
<text x="41.5" y="168.9" text-anchor="end">10</text>
<text x="42.3" y="161.3" font-size="11.5">-2</text>
<text x="41.5" y="89.0" text-anchor="end">10</text>
<text x="42.3" y="81.4" font-size="11.5">-1</text>
<text x="297.6" y="527.5" text-anchor="middle" font-style="italic" font-size="19">θ</text>
<text transform="translate(16.6 244.6) rotate(-90)" text-anchor="middle" font-size="18">BER</text>
</g>
<rect x="351.0" y="7.1" width="193.60000000000002" height="131.1" fill="#fff" stroke="#3a3a3a" stroke-width="1.2"/>
<g font-family="'Liberation Serif',serif" fill="#2a2a2a" font-size="17">
<path d="M357.3 20.4H419.1" stroke="#2a47a8" stroke-width="1.8"/>
<path d="M388.2 14.3V26.5" stroke="#2a47a8" stroke-width="1.5" fill="none"/>
<text transform="translate(424.2 26.6) scale(0.977 1)">P=4, M=32QAM</text>
<path d="M357.3 41.4H419.1" stroke="#2a47a8" stroke-width="1.8"/>
<path d="M388.2 34.8L393.5 44.7H382.9Z" stroke="#2a47a8" stroke-width="2.1" fill="none" stroke-linejoin="miter"/>
<text transform="translate(424.2 47.6) scale(0.977 1)">P=4, M=16QAM</text>
<path d="M357.3 62.4H419.1" stroke="#2a47a8" stroke-width="1.8"/>
<rect x="384.2" y="58.4" width="7.9" height="7.9" stroke="#2a47a8" stroke-width="2.1" fill="none"/>
<text transform="translate(424.2 68.6) scale(0.977 1)">P=4, M=8QAM</text>
<path d="M357.3 83.4H419.1" stroke="#ee1c25" stroke-width="1.8" stroke-dasharray="2 2.8"/>
<path d="M382.1 83.4H394.3M388.2 77.3V89.5" stroke="#ee1c25" stroke-width="1.9" fill="none"/>
<text transform="translate(424.2 89.6) scale(0.977 1)">P=2, M=32QAM</text>
<path d="M357.3 104.4H419.1" stroke="#ee1c25" stroke-width="1.8" stroke-dasharray="2 2.8"/>
<path d="M388.2 97.8L393.5 107.7H382.9Z" stroke="#ee1c25" stroke-width="2.1" fill="none" stroke-linejoin="miter"/>
<text transform="translate(424.2 110.6) scale(0.977 1)">P=2, M=16QAM</text>
<path d="M357.3 125.4H419.1" stroke="#ee1c25" stroke-width="1.8" stroke-dasharray="2 2.8"/>
<rect x="384.2" y="121.5" width="7.9" height="7.9" stroke="#ee1c25" stroke-width="2.1" fill="none"/>
<text transform="translate(424.2 131.6) scale(0.977 1)">P=2, M=8QAM</text>
</g>
</svg>
</body></html>
